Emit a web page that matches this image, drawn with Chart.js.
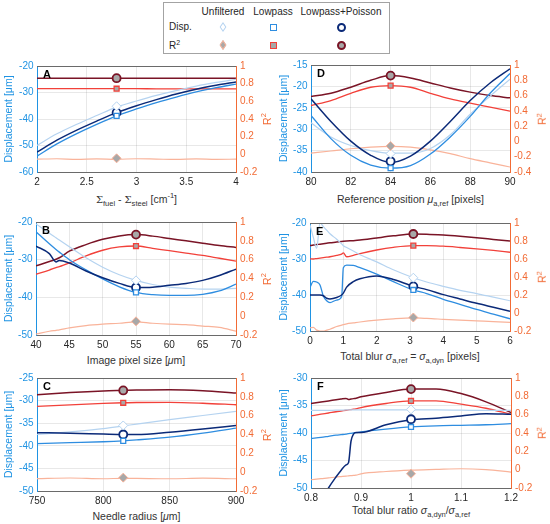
<!DOCTYPE html>
<html>
<head>
<meta charset="utf-8">
<script src="https://cdn.jsdelivr.net/npm/chart.js@4.4.1/dist/chart.umd.min.js"></script>
<style>
  body { margin: 0; width: 550px; height: 524px; position: relative; overflow: hidden; background: #fff;
         font-family: 'Liberation Sans', Arial, sans-serif; color: #262626; }
  canvas { position: absolute; }
  .xt { position: absolute; font-size: 10.5px; white-space: nowrap; transform: translate(-50%, -50%); line-height: 1; color: #333; }
  .xt sub, .xt sup, .rt sup { font-size: 72%; line-height: 0; }
  .sig { font-family: 'DejaVu Serif', serif; font-size: 95%; }
  .rt { position: absolute; font-size: 10.5px; color: #f26b35; white-space: nowrap; line-height: 1;
        transform: translate(-50%, -50%) rotate(-90deg); }
  #legend { position: absolute; left: 163px; top: 2px; width: 225px; height: 50px; border: 1px solid #a3a3a3; font-size: 10px; }
  #legend .c { position: absolute; transform: translate(-50%, -50%); white-space: nowrap; line-height: 1; }
  #legend .l { position: absolute; transform: translateY(-50%); line-height: 1; }
  .mk { position: absolute; box-sizing: border-box; }
</style>
</head>
<body>
<div id="legend">
  <div class="c" style="left:59px;top:9px">Unfiltered</div>
  <div class="c" style="left:109px;top:9px">Lowpass</div>
  <div class="c" style="left:177px;top:9px">Lowpass+Poisson</div>
  <div class="l" style="left:5px;top:24px">Disp.</div>
  <div class="l" style="left:5px;top:42px">R<sup style="font-size:70%">2</sup></div>
  <div class="mk" style="left:56px;top:21px;width:6px;height:6px;border:1px solid #b5d3f0;background:#fff;transform:scale(0.8,1.15) rotate(45deg)"></div>
  <div class="mk" style="left:105.5px;top:20.5px;width:7px;height:7px;border:1.3px solid #2e8de0;background:#fff"></div>
  <div class="mk" style="left:172.5px;top:19.5px;width:9px;height:9px;border:2px solid #0b2a78;border-radius:50%;background:#fff"></div>
  <div class="mk" style="left:56px;top:39px;width:6px;height:6px;border:1px solid #f9b39a;background:#a8a8a8;transform:scale(0.8,1.15) rotate(45deg)"></div>
  <div class="mk" style="left:105.5px;top:38.5px;width:7px;height:7px;border:1.3px solid #f2413a;background:#a8a8a8"></div>
  <div class="mk" style="left:172.5px;top:37.5px;width:9px;height:9px;border:2px solid #7a1426;border-radius:50%;background:#a8a8a8"></div>
</div>

<div class="xt" style="left:136.5px;top:199px"><span class="sig">Σ</span><sub>fuel</sub> - <span class="sig">Σ</span><sub>steel</sub> [cm<sup>-1</sup>]</div>
<div class="xt" style="left:410.5px;top:199px">Reference position <i>μ</i><sub>a,ref</sub> [pixels]</div>
<div class="xt" style="left:136px;top:360px">Image pixel size [<i>μ</i>m]</div>
<div class="xt" style="left:410px;top:356px">Total blur <i>σ</i><sub>a,ref</sub> = <i>σ</i><sub>a,dyn</sub> [pixels]</div>
<div class="xt" style="left:136.5px;top:516px">Needle radius [<i>μ</i>m]</div>
<div class="xt" style="left:411px;top:510px">Total blur ratio <i>σ</i><sub>a,dyn</sub>/<i>σ</i><sub>a,ref</sub></div>

<script>
// ===== Panel A: Sigma_fuel - Sigma_steel =====
const aX = [2, 2.2, 2.4, 2.6, 2.8, 3, 3.2, 3.4, 3.6, 3.8, 4];
const aDispU = [-50, -45.6, -42, -38.7, -35.5, -33.2, -31.1, -29.3, -27.6, -26.2, -25];
const aDispL = [-54, -49.4, -45.5, -42, -38.8, -36.2, -33.8, -31.7, -29.8, -28.2, -26.8];
const aDispP = [-52.5, -48, -44.2, -40.8, -37.6, -35, -32.7, -30.6, -28.8, -27.3, -26];
const aR2U = [-0.055, -0.05, -0.058, -0.052, -0.056, -0.05, -0.054, -0.058, -0.052, -0.056, -0.055];
const aR2L = [0.745, 0.744, 0.744, 0.743, 0.743, 0.743, 0.742, 0.742, 0.741, 0.741, 0.74];
const aR2P = [0.862, 0.862, 0.862, 0.862, 0.862, 0.862, 0.862, 0.862, 0.862, 0.862, 0.862];
const aMarkX = 2.8;
const aMarkDisp = [-35.2, -38.8, -37.6];
const aMarkR2 = [-0.045, 0.743, 0.862];
const aXTicks = [2, 4, 0.5];
const aYTicks = [-60, -20, 10];
const aRTicks = [-0.2, 1, 0.2];

// ===== Panel B: image pixel size =====
const bX = [40, 42, 43, 43.5, 45, 47.5, 50, 52.5, 55, 57.5, 60, 62.5, 65, 67.5, 70];
const bDispU = [-20.5, -23, -24.2, -24.8, -26.6, -29.5, -32, -34, -35.5, -36.6, -37.3, -37.6, -37.8, -37.8, -37.6];
const bDispL = [-22.6, -25.8, -27.3, -28, -30, -32.7, -35.1, -37.2, -38.7, -39.3, -39.5, -39.5, -39.2, -38.3, -36.5];
const bDispP = [-26.4, -28.4, -30.6, -30.2, -30.9, -33, -34.8, -36.3, -37.4, -37.3, -36.8, -36.3, -35.5, -34.2, -32.5];
const bR2U = [-0.19, -0.16, -0.15, -0.145, -0.125, -0.1, -0.085, -0.075, -0.06, -0.075, -0.085, -0.09, -0.105, -0.12, -0.16];
const bR2L = [0.445, 0.49, 0.515, 0.525, 0.565, 0.64, 0.7, 0.735, 0.745, 0.72, 0.695, 0.67, 0.645, 0.615, 0.585];
const bR2P = [0.534, 0.58, 0.605, 0.62, 0.69, 0.76, 0.816, 0.852, 0.866, 0.85, 0.825, 0.8, 0.775, 0.75, 0.73];
const bMarkX = 55;
const bMarkDisp = [-35.5, -38.7, -37.4];
const bMarkR2 = [-0.055, 0.745, 0.866];
const bXTicks = [40, 70, 5];
const bYTicks = [-50, -20, 10];
const bRTicks = [-0.2, 1, 0.2];

// ===== Panel C: needle radius =====
const cX = [750, 775, 800, 815, 825, 850, 875, 900];
const cDispU = [-37.5, -36.9, -36.2, -35.6, -35.2, -34.2, -33.3, -32.4];
const cDispL = [-39.5, -39.3, -39.1, -38.9, -38.7, -38.1, -37.2, -36.1];
const cDispP = [-37.1, -37.2, -37.4, -37.5, -37.5, -37.0, -36.3, -35.5];
const cR2U = [-0.068, -0.062, -0.07, -0.065, -0.066, -0.07, -0.064, -0.07];
const cR2L = [0.698, 0.715, 0.73, 0.737, 0.74, 0.741, 0.732, 0.716];
const cR2P = [0.822, 0.845, 0.862, 0.868, 0.872, 0.876, 0.865, 0.84];
const cMarkX = 815;
const cMarkDisp = [-35.5, -38.9, -37.5];
const cMarkR2 = [-0.058, 0.737, 0.868];
const cXTicks = [750, 900, 50];
const cYTicks = [-50, -25, 5];
const cRTicks = [-0.2, 1, 0.2];

// ===== Panel D: reference position =====
const dX = [80, 81, 82, 83, 84, 85, 86, 87, 88, 89, 90];
const dDispU = [-28.5, -31.8, -33.8, -35.0, -35.6, -35.6, -34.5, -31.3, -26.5, -22.3, -18.3];
const dDispL = [-26.8, -32.2, -36.1, -38.4, -39.1, -38.5, -35.8, -31.8, -27, -21.6, -17];
const dDispP = [-22.9, -28.2, -32.8, -36.1, -37.8, -36.3, -32.8, -28.2, -23.3, -19.2, -15.9];
const dR2U = [-0.152, -0.125, -0.096, -0.075, -0.065, -0.075, -0.11, -0.16, -0.226, -0.28, -0.335];
const dR2L = [0.47, 0.535, 0.63, 0.709, 0.73, 0.709, 0.63, 0.557, 0.5, 0.448, 0.396];
const dR2P = [0.587, 0.63, 0.71, 0.8, 0.861, 0.83, 0.765, 0.7, 0.645, 0.6, 0.57];
const dMarkX = 84;
const dMarkDisp = [-35.7, -39.1, -37.5];
const dMarkR2 = [-0.06, 0.73, 0.861];
const dXTicks = [80, 90, 2];
const dYTicks = [-40, -15, 5];
const dRTicks = [-0.4, 1, 0.2];

// ===== Panel E: total blur =====
const eX = [0, 0.1, 0.2, 0.3, 0.4, 0.5, 0.6, 0.8, 0.95, 1.0, 1.1, 1.3, 1.5, 2, 2.5, 3.1, 3.5, 4, 4.5, 5, 5.5, 6];
const eDispU = [-20.5, -24, -27, -20, -21, -22, -23, -24.5, -25.8, -26.3, -26.8, -27.8, -28.8, -30.8, -33, -35.2, -36.4, -37.6, -38.7, -39.6, -40.6, -41.6];
const eDispL = [-37.9, -36.2, -36.4, -37.2, -40.3, -41.6, -42.1, -41.4, -40.5, -32.4, -31.7, -31.8, -32.4, -34.2, -36.3, -38.6, -39.6, -41.2, -42.6, -44, -45.3, -46.6];
const eDispP = [-40, -40, -40, -40, -40.2, -40.9, -41.1, -40.7, -40, -39.5, -37.8, -36.3, -35.5, -34.7, -35.7, -37.6, -38.5, -39.9, -41.1, -42.3, -43.4, -44.5];
const eR2U = [-0.165, -0.16, -0.19, -0.2, -0.2, -0.19, -0.18, -0.15, -0.135, -0.13, -0.12, -0.11, -0.1, -0.08, -0.065, -0.055, -0.06, -0.07, -0.08, -0.088, -0.095, -0.105];
const eR2L = [0.601, 0.6, 0.605, 0.61, 0.615, 0.62, 0.625, 0.64, 0.655, 0.667, 0.625, 0.64, 0.66, 0.7, 0.73, 0.749, 0.748, 0.742, 0.728, 0.712, 0.695, 0.675];
const eR2P = [0.749, 0.755, 0.76, 0.765, 0.77, 0.775, 0.78, 0.788, 0.795, 0.797, 0.8, 0.804, 0.81, 0.834, 0.857, 0.878, 0.876, 0.866, 0.852, 0.836, 0.818, 0.8];
const eMarkX = 3.1;
const eMarkDisp = [-35.2, -38.6, -37.6];
const eMarkR2 = [-0.05, 0.749, 0.878];
const eXTicks = [0, 6, 1];
const eYTicks = [-50, -20, 10];
const eRTicks = [-0.2, 1, 0.2];

// ===== Panel F: total blur ratio =====
const fX = [0.8, 0.82, 0.835, 0.85, 0.86, 0.87, 0.875, 0.88, 0.885, 0.89, 0.9, 0.95, 1.0, 1.05, 1.1, 1.15, 1.2];
const fDispU = [-35.9, -35.9, -35.9, -35.85, -35.85, -35.8, -35.8, -35.8, -35.8, -35.8, -35.8, -35.8, -35.8, -35.8, -35.85, -35.9, -35.9];
const fDispL = [-41, -40.8, -40.6, -40.4, -40.3, -40.2, -40.1, -40.05, -40, -39.95, -39.8, -39.3, -38.9, -38.7, -38.6, -38.5, -38.3];
const fDispP = [-55, -52.5, -50, -48, -46.8, -45.8, -45.4, -41.5, -40.2, -39.9, -39.9, -38.5, -37.6, -37.3, -36.9, -36.5, -36.6];
const fR2U = [-0.11, -0.098, -0.09, -0.08, -0.075, -0.07, -0.068, -0.065, -0.062, -0.06, -0.045, -0.02, -0.005, 0.003, 0.01, 0.0, -0.026];
const fR2L = [0.586, 0.605, 0.618, 0.632, 0.64, 0.648, 0.652, 0.656, 0.66, 0.664, 0.678, 0.722, 0.751, 0.751, 0.714, 0.67, 0.604];
const fR2P = [0.722, 0.738, 0.75, 0.762, 0.77, 0.777, 0.765, 0.77, 0.775, 0.78, 0.795, 0.843, 0.879, 0.879, 0.83, 0.74, 0.623];
const fMarkX = 1.0;
const fMarkDisp = [-35.7, -38.9, -37.5];
const fMarkR2 = [-0.044, 0.751, 0.879];
const fXTicks = [0.8, 1.2, 0.1];
const fYTicks = [-50, -30, 5];
const fRTicks = [-0.2, 1, 0.2];

// ===== Colours =====
const colU = '#b5d3f0', colL = '#2e8de0', colP = '#0b2a78';
const colRU = '#f9b39a', colRL = '#f2413a', colRP = '#7a1426';
const colAxisL = '#1f93e3', colAxisR = '#f26b35', markFill = '#a8a8a8';

Chart.defaults.font.family = "'Liberation Sans', Arial, sans-serif";

const pts = (xs, ys) => xs.map((x, i) => ({ x, y: ys[i] }));
// plain tick text: 2, 2.5, 0, -0.2 (no padded decimals)
const fmt = v => String(Math.round(v * 1000) / 1000);

function line(xs, ys, color, axis, width, order) {
    return {
        data: pts(xs, ys), yAxisID: axis, borderColor: color, borderWidth: width,
        pointRadius: 0, tension: 0, cubicInterpolationMode: 'monotone', order
    };
}

function mark(x, y, style, r, stroke, fill, bw, axis) {
    return {
        data: [{ x, y }], yAxisID: axis, showLine: false, pointStyle: style,
        pointRadius: r, borderColor: stroke, backgroundColor: fill,
        pointBorderColor: stroke, pointBackgroundColor: fill, pointBorderWidth: bw, order: 0
    };
}

// top frame line and panel letter
const framePlugin = {
    id: 'frame',
    afterDraw(chart, args, opts) {
        const { ctx, chartArea: a } = chart;
        ctx.save();
        ctx.strokeStyle = '#6a6a6a';
        ctx.lineWidth = 1;
        ctx.beginPath();
        ctx.moveTo(a.left, a.top + 0.5);
        ctx.lineTo(a.right, a.top + 0.5);
        ctx.stroke();
        ctx.fillStyle = '#000';
        ctx.font = "bold 11px 'Liberation Sans', Arial, sans-serif";
        ctx.textBaseline = 'top';
        ctx.fillText(opts.letter, a.left + 6, a.top + 3);
        ctx.restore();
    }
};

const panels = [
    { letter: 'A', col: 0, rect: [37, 236, 66, 172], x: aX, d: [aDispU, aDispL, aDispP], r: [aR2U, aR2L, aR2P], mx: aMarkX, md: aMarkDisp, mr: aMarkR2, xt: aXTicks, yt: aYTicks, rt: aRTicks },
    { letter: 'D', col: 1, rect: [311, 510, 65, 172], x: dX, d: [dDispU, dDispL, dDispP], r: [dR2U, dR2L, dR2P], mx: dMarkX, md: dMarkDisp, mr: dMarkR2, xt: dXTicks, yt: dYTicks, rt: dRTicks },
    { letter: 'B', col: 0, rect: [36, 236, 222, 335], x: bX, d: [bDispU, bDispL, bDispP], r: [bR2U, bR2L, bR2P], mx: bMarkX, md: bMarkDisp, mr: bMarkR2, xt: bXTicks, yt: bYTicks, rt: bRTicks },
    { letter: 'E', col: 1, rect: [310, 510, 223, 331], x: eX, d: [eDispU, eDispL, eDispP], r: [eR2U, eR2L, eR2P], mx: eMarkX, md: eMarkDisp, mr: eMarkR2, xt: eXTicks, yt: eYTicks, rt: eRTicks },
    { letter: 'C', col: 0, rect: [37, 236, 378, 491], x: cX, d: [cDispU, cDispL, cDispP], r: [cR2U, cR2L, cR2P], mx: cMarkX, md: cMarkDisp, mr: cMarkR2, xt: cXTicks, yt: cYTicks, rt: cRTicks },
    { letter: 'F', col: 1, rect: [311, 511, 378, 488], x: fX, d: [fDispU, fDispL, fDispP], r: [fR2U, fR2L, fR2P], mx: fMarkX, md: fMarkDisp, mr: fMarkR2, xt: fXTicks, yt: fYTicks, rt: fRTicks },
];

const gridCol = 'rgba(0,0,0,0.09)';

panels.forEach(p => {
    const [l, r, t, b] = p.rect;
    const cx = p.col === 0 ? 0 : 275;
    const cw = 275;
    const top = t - 12;
    const ch = b - t + 12 + 20;

    const canvas = document.createElement('canvas');
    canvas.width = cw;
    canvas.height = ch;
    canvas.style.left = cx + 'px';
    canvas.style.top = top + 'px';
    canvas.style.width = cw + 'px';
    canvas.style.height = ch + 'px';
    document.body.appendChild(canvas);

    // rotated right-axis title
    const rt = document.createElement('div');
    rt.className = 'rt';
    rt.innerHTML = 'R<sup>2</sup>';
    rt.style.left = (cx + 266.5) + 'px';
    rt.style.top = ((t + b) / 2) + 'px';
    document.body.appendChild(rt);

    new Chart(canvas, {
        type: 'line',
        data: {
            datasets: [
                line(p.x, p.r[0], colRU, 'y2', 1.2, 6),
                line(p.x, p.r[1], colRL, 'y2', 1.3, 5),
                line(p.x, p.r[2], colRP, 'y2', 1.5, 4),
                line(p.x, p.d[0], colU, 'y', 1.2, 3),
                line(p.x, p.d[1], colL, 'y', 1.3, 2),
                line(p.x, p.d[2], colP, 'y', 1.5, 1),
                mark(p.mx, p.mr[0], 'rectRot', 4.5, colRU, markFill, 1, 'y2'),
                mark(p.mx, p.mr[1], 'rect', 3.5, colRL, markFill, 1.3, 'y2'),
                mark(p.mx, p.mr[2], 'circle', 4, colRP, markFill, 1.8, 'y2'),
                mark(p.mx, p.md[0], 'rectRot', 4.5, colU, '#fff', 1, 'y'),
                mark(p.mx, p.md[1], 'rect', 3.5, colL, '#fff', 1.3, 'y'),
                mark(p.mx, p.md[2], 'circle', 4, colP, '#fff', 1.8, 'y'),
            ]
        },
        plugins: [framePlugin],
        options: {
            responsive: false,
            animation: false,
            events: [],
            layout: { padding: { top: 12, left: 0, right: 0, bottom: 0 } },
            plugins: {
                legend: { display: false },
                tooltip: { enabled: false },
                frame: { letter: p.letter }
            },
            scales: {
                x: {
                    type: 'linear',
                    min: p.xt[0], max: p.xt[1],
                    afterFit: s => { s.height = 20; },
                    grid: { color: gridCol, drawTicks: false },
                    border: { color: '#6a6a6a' },
                    ticks: { stepSize: p.xt[2], color: '#262626', font: { size: 10 }, padding: 4, maxRotation: 0, autoSkip: false, callback: fmt }
                },
                y: {
                    position: 'left',
                    min: p.yt[0], max: p.yt[1],
                    afterFit: s => { s.width = l - cx; },
                    grid: { color: gridCol, drawTicks: false },
                    border: { color: colAxisL },
                    ticks: { stepSize: p.yt[2], color: colAxisL, font: { size: 10 }, padding: 3.5, callback: fmt },
                    title: { display: true, text: 'Displacement [μm]', color: colAxisL, font: { size: 10.5 }, padding: { top: 3, bottom: 0 } }
                },
                y2: {
                    position: 'right',
                    min: p.rt[0], max: p.rt[1],
                    afterFit: s => { s.width = cx + cw - r; },
                    grid: { drawOnChartArea: false, drawTicks: false },
                    border: { color: colAxisR },
                    ticks: { stepSize: p.rt[2], color: colAxisR, font: { size: 10 }, padding: 4, callback: fmt }
                }
            }
        }
    });
});
</script>
</body>
</html>
